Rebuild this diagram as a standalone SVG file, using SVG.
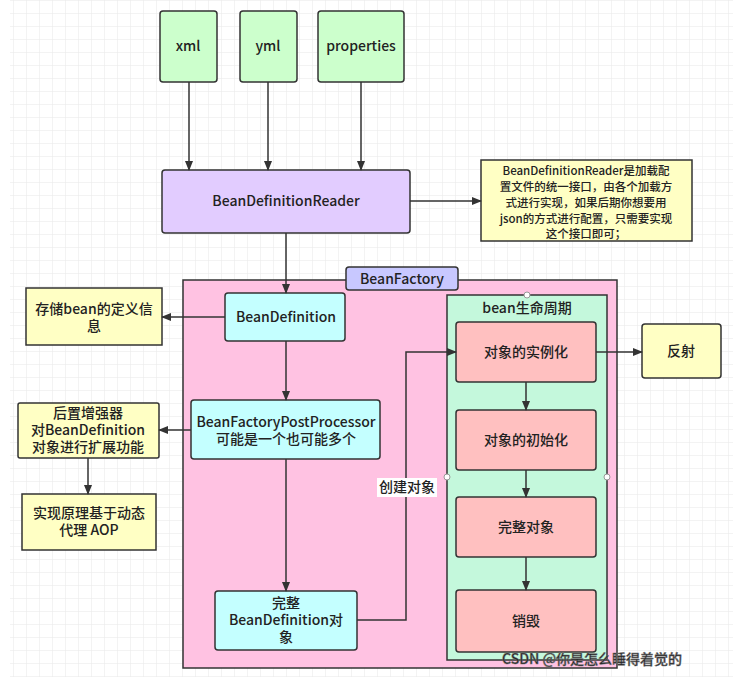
<svg xmlns="http://www.w3.org/2000/svg" width="733" height="677" viewBox="0 0 733 677">
<defs>
<pattern id="grid" width="13" height="13" patternUnits="userSpaceOnUse"><path d="M13 0H0V13" fill="none" stroke="#e8e8e8" stroke-width="1"/></pattern>
<marker id="a" markerWidth="10" markerHeight="8" refX="9" refY="4" orient="auto" markerUnits="userSpaceOnUse"><path d="M0 0L10 4L0 8z" fill="#333"/></marker>
</defs>
<style>
.n{stroke:#333;stroke-width:1.5}
.g{fill:#ccffcc}.p{fill:#e2ccff}.y{fill:#ffffc4}.c{fill:#c4ffff}.r{fill:#ffc0c0}
text{font-family:"Noto Sans CJK SC","Liberation Sans",sans-serif;font-size:14px;font-weight:500;fill:#222;text-anchor:middle}
.s{font-size:11.5px}
.l{fill:none;stroke:#333;stroke-width:1.5;marker-end:url(#a)}
</style>
<rect width="733" height="677" fill="#fff"/>
<rect x="10" y="0" width="723" height="677" fill="url(#grid)"/>
<g id="bf"><rect class="n" x="183" y="280" width="434" height="388" fill="#ffc2e2"/></g>
<g id="lifecycle"><rect class="n" x="447" y="295" width="160" height="365" fill="#c4f8dc"/><text x="527" y="313">bean生命周期</text></g>
<g id="bflabel"><rect class="n" x="346" y="267" width="112" height="23" rx="3" fill="#c8c8ff"/><text x="402" y="284">BeanFactory</text></g>
<g id="xml"><rect class="n g" x="160" y="11" width="57" height="71" rx="3"/><text x="188" y="51">xml</text></g>
<g id="yml"><rect class="n g" x="240" y="11" width="57" height="71" rx="3"/><text x="268" y="51">yml</text></g>
<g id="properties"><rect class="n g" x="318" y="11" width="86" height="71" rx="3"/><text x="361" y="51">properties</text></g>
<g id="reader"><rect class="n p" x="162" y="170" width="248" height="63" rx="3"/><text x="286" y="206">BeanDefinitionReader</text></g>
<g id="note"><rect class="n y" x="481" y="160" width="211" height="81"/><text class="s" x="586" y="175">BeanDefinitionReader是加载配</text><text class="s" x="586" y="191">置文件的统一接口，由各个加载方</text><text class="s" x="586" y="207">式进行实现，如果后期你想要用</text><text class="s" x="586" y="223">json的方式进行配置，只需要实现</text><text class="s" x="586" y="238">这个接口即可；</text></g>
<g id="bd"><rect class="n c" x="225" y="293" width="120" height="48" rx="3"/><text x="286" y="322">BeanDefinition</text></g>
<g id="bfpp"><rect class="n c" x="191" y="400" width="189" height="59" rx="3"/><text x="286" y="427">BeanFactoryPostProcessor</text><text x="286" y="444">可能是一个也可能多个</text></g>
<g id="full"><rect class="n c" x="215" y="591" width="142" height="59" rx="3"/><text x="286" y="608">完整</text><text x="286" y="625">BeanDefinition对</text><text x="286" y="642">象</text></g>
<g id="store"><rect class="n y" x="26" y="288" width="136" height="57"/><text x="94" y="314">存储bean的定义信</text><text x="94" y="331">息</text></g>
<g id="post"><rect class="n y" x="18" y="403" width="141" height="55" rx="2"/><text x="88" y="418">后置增强器</text><text x="88" y="435">对BeanDefinition</text><text x="88" y="452">对象进行扩展功能</text></g>
<g id="aop"><rect class="n y" x="22" y="494" width="134" height="56"/><text x="89" y="518">实现原理基于动态</text><text x="89" y="535">代理 AOP</text></g>
<g id="inst"><rect class="n r" x="456" y="322" width="140" height="60" rx="3"/><text x="526" y="357">对象的实例化</text></g>
<g id="init"><rect class="n r" x="456" y="410" width="140" height="60" rx="3"/><text x="526" y="445">对象的初始化</text></g>
<g id="obj"><rect class="n r" x="456" y="497" width="140" height="60" rx="3"/><text x="526" y="532">完整对象</text></g>
<g id="destroy"><rect class="n r" x="456" y="590" width="140" height="62" rx="3"/><text x="526" y="626">销毁</text></g>
<g id="reflect"><rect class="n y" x="642" y="324" width="79" height="54" rx="3"/><text x="681" y="356">反射</text></g>
<g id="connectors">
<path class="l" d="M189 82V170"/><path class="l" d="M268 82V170"/><path class="l" d="M361 82V170"/>
<path class="l" d="M410 201H481"/><path class="l" d="M286 233V293"/>
<path class="l" d="M225 317H162"/><path class="l" d="M286 341V400"/>
<path class="l" d="M191 430H159"/><path class="l" d="M88 458V494"/>
<path class="l" d="M286 459V591"/>
<path class="l" d="M357 620H406V352H456"/>
<path class="l" d="M596 352H642"/>
<path class="l" d="M526 382V410"/><path class="l" d="M526 470V497"/><path class="l" d="M526 557V590"/>
<rect x="377" y="478" width="60" height="19" fill="#fff"/><text x="407" y="492">创建对象</text>
</g>
<circle cx="527" cy="295" r="3" fill="#fff" stroke="#999"/><circle cx="447" cy="477" r="3" fill="#fff" stroke="#999"/><circle cx="607" cy="477" r="3" fill="#fff" stroke="#999"/>
<text x="592" y="664" font-size="18" fill="#fff" stroke="#777" stroke-width="0.5">CSDN @你是怎么睡得着觉的</text>
</svg>
